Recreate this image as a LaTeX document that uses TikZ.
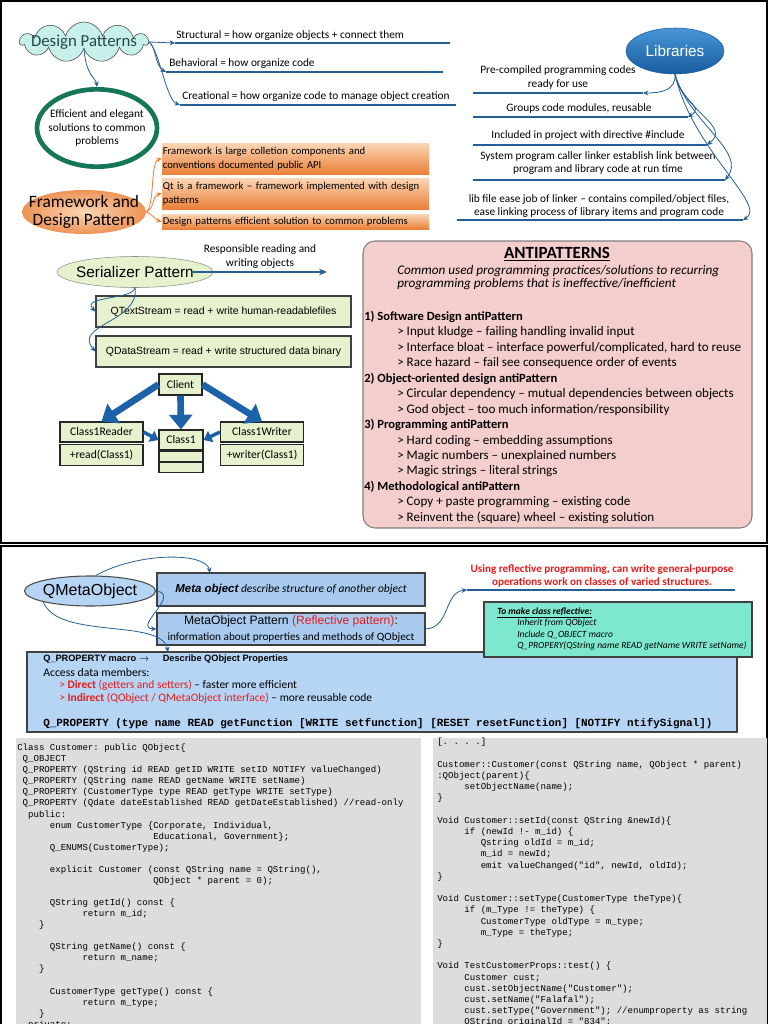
\documentclass[tikz,border=0pt]{standalone}
\usepackage{fontspec}
\setmainfont{Carlito}
\setsansfont{Liberation Sans}
\setmonofont{Liberation Mono}
\usepackage{tikz}
\usetikzlibrary{positioning,arrows.meta,shapes.symbols,shapes.geometric}
\definecolor{lineblue}{RGB}{36,96,150}
\definecolor{cloudfill}{RGB}{200,240,234}
\definecolor{dptext}{RGB}{40,70,70}
\definecolor{ringgreen}{RGB}{22,118,88}
\definecolor{orlight}{RGB}{251,214,182}
\definecolor{ordark}{RGB}{234,128,56}
\definecolor{libtop}{RGB}{72,150,215}
\definecolor{libbot}{RGB}{24,92,160}
\definecolor{sergreen}{RGB}{230,242,206}
\definecolor{umlblue}{RGB}{28,98,168}
\definecolor{antipink}{RGB}{244,205,205}
\definecolor{metablue}{RGB}{168,202,238}
\definecolor{propblue}{RGB}{182,212,244}
\definecolor{reflgreen}{RGB}{126,232,206}
\definecolor{codegray}{RGB}{221,221,221}
\definecolor{reflred}{RGB}{232,28,28}
\newcommand{\fsz}[2]{\fontsize{#1}{#2}\selectfont}
\tikzset{
  lbl/.style={font=\fsz{8.5}{10}},
  hline/.style={draw=lineblue, line width=1.8pt},
  curv/.style={draw=lineblue, line width=0.6pt, -{Stealth[length=4pt,width=3.6pt]}},
  orcurv/.style={draw=ordark, line width=0.6pt, -{Stealth[length=4pt,width=3.6pt]}},
  orbox/.style={top color=orlight, bottom color=ordark, minimum width=200.25pt,
    text width=199pt, align=left, inner sep=0.6pt, font=\fsz{8}{10.3}},
  streambox/.style={draw=black!75, line width=0.8pt, fill=sergreen, minimum width=191.25pt,
    minimum height=23.25pt, font=\sffamily\fsz{7.85}{9}},
  umlbox/.style={draw=black!85, line width=0.8pt, fill=sergreen, font=\fsz{8.7}{9.6}},
  bigarrow/.style={draw=umlblue, line width=5pt, -{Triangle[length=11pt,width=17pt]}},
  smallarrow/.style={draw=umlblue, line width=2.6pt, -{Triangle[length=6pt,width=9pt]}},
  antihead/.style={anchor=west, font=\bfseries\fsz{9.4}{10}},
  antiitem/.style={anchor=west, font=\fsz{9.8}{10}},
  metabox/.style={draw=black!75, line width=0.9pt, fill=metablue, minimum width=201pt},
  codetxt/.style={anchor=north west, align=left, font=\ttfamily\fsz{6.8}{8.4}},
}
\begin{document}
\begin{tikzpicture}[x=0.75pt, y=-0.75pt, every node/.style={inner sep=0pt}]
\useasboundingbox (0,0) rectangle (768,1024);
\fill[white] (0,0) rectangle (768,1024);
% two panels
\draw[line width=1.2pt] (1,1) rectangle (767,543);
\draw[line width=1.2pt] (1,546) rectangle (767,1030);

% design patterns
\node[cloud, cloud puffs=11, aspect=3.2, draw=black!75, fill=cloudfill,
      minimum width=96pt, minimum height=30pt] (dp) at (84,42) {};
\node[font=\fsz{12.6}{14}, text=dptext] (dptxt) at (dp.center) {Design Patterns};
\node[lbl, anchor=west] (strt) at (176,36) {Structural = how organize objects + connect them};
\node[lbl, anchor=west] (beht) at (169,64) {Behavioral = how organize code};
\node[lbl, anchor=west] (cret) at (182,97) {Creational = how organize code to manage object creation};
\coordinate (st0) at (175,43);  \coordinate (st1) at (450,43);
\coordinate (bh0) at (166,72);  \coordinate (bh1) at (443,72);
\coordinate (cr0) at (180,105); \coordinate (cr1) at (456,105);
\draw[hline] (st0) -- (st1);
\draw[hline] (bh0) -- (bh1);
\draw[hline] (cr0) -- (cr1);
\draw[curv] (dp.east) -- (st0);
\draw[curv] (dp.east) .. controls (156,46) and (155,66) .. (bh0);
\draw[curv] (dp.east) .. controls (160,52) and (166,100) .. (cr0);

\node[ellipse, draw=ringgreen, line width=3.5pt, minimum width=90pt, minimum height=58pt] (ring) at (97,128) {};
\node[font=\fsz{8.5}{10}, align=center] (ringtxt) at (ring.center) {Efficient and elegant\\solutions to common\\problems};
\draw[curv] (dp.south) .. controls (86,76) and (96,78) .. (ring.north);

% framework
\node[ellipse, inner color=orlight, outer color=ordark!85, minimum width=93pt, minimum height=33pt] (fw) at (84,212) {};
\node[font=\fsz{13}{14}, align=center] (fwtxt) at (fw.center) {Framework and\\Design Pattern};
\node[orbox, minimum height=23.25pt] (ob1) at (295.5,158.5) {Framework is large colletion components and\\conventions documented public API};
\node[orbox, minimum height=23.25pt] (ob2) at (295.5,193.5) {Qt is a framework -- framework implemented with design\\patterns};
\node[orbox, minimum height=11.25pt] (ob3) at (295.5,221.5) {Design patterns efficient solution to common problems};
\draw[orcurv] (fw.east) .. controls (155,205) and (150,162) .. (ob1.west);
\draw[orcurv] (fw.east) .. controls (155,208) and (152,196) .. (ob2.west);
\draw[orcurv] (fw.east) .. controls (152,214) and (156,220) .. (ob3.west);

% libraries
\node[ellipse, top color=libtop, bottom color=libbot, draw=libbot, minimum width=73.5pt,
      minimum height=34.5pt, text=white, font=\sffamily\fsz{11.5}{13}] (lib) at (675,51) {Libraries};
\node[lbl, align=center] (lt1) at (558,77.5) {Pre-compiled programming codes\\ready for use};
\node[lbl, align=center] (lt2) at (579,108) {Groups code modules, reusable};
\node[lbl, align=center] (lt3) at (588,136) {Included in project with directive \#include};
\node[lbl, align=center] (lt4) at (598,163) {System program caller linker establish link between\\program and library code at run time};
\node[lbl, align=center] (lt5) at (599,206) {lib file ease job of linker -- contains compiled/object files,\\ease linking process of library items and program code};
\coordinate (la1) at (473,93);  \coordinate (lb1) at (643,93);
\coordinate (la2) at (473,117); \coordinate (lb2) at (688,117);
\coordinate (la3) at (473,145); \coordinate (lb3) at (707,145);
\coordinate (la4) at (473,180); \coordinate (lb4) at (725,180);
\coordinate (la5) at (457,220); \coordinate (lb5) at (743,220);
\foreach \i in {1,...,5}
  \draw[hline] (la\i) -- (lb\i);
\draw[curv] (lib.south) .. controls (676,90) and (662,93) .. (lb1);
\draw[curv] (lib.south) .. controls (680,102) and (706,106) .. (lb2);
\draw[curv] (lib.south) .. controls (684,112) and (732,126) .. (lb3);
\draw[curv] (lib.south) .. controls (688,122) and (748,152) .. (lb4);
\draw[curv] (lib.south) .. controls (692,150) and (768,205) .. (lb5);

% serializer
\node[ellipse, draw=black!45, fill=sergreen, minimum width=117pt, minimum height=23.25pt] (ser) at (135,272) {};
\node[font=\sffamily\fsz{11.5}{13}] (sertxt) at (ser.center) {Serializer Pattern};
\node[lbl, align=center] (sert) at (260,256.5) {Responsible reading and\\writing objects};
\coordinate (sr0) at (193,272); \coordinate (sr1) at (327,272);
\draw[hline, -{Stealth[length=6pt,width=5pt]}] (sr0) -- (sr1);
\node[streambox] (qts) at (223.5,311.5) {QTextStream = read + write human-readablefiles};
\node[streambox] (qds) at (223.5,351.5) {QDataStream = read + write structured data binary};
\draw[curv] (ser.south) .. controls (133,300) and (80,296) .. (qts.west);
\draw[curv] (ser.south) .. controls (140,322) and (72,325) .. (qds.west);

% uml
\node[umlbox, minimum width=32.25pt, minimum height=15.75pt] (client) at (180.5,384.5) {Client};
\node[umlbox, minimum width=62.25pt, minimum height=15pt] (clsr) at (101.5,432) {Class1Reader};
\node[umlbox, minimum width=62.25pt, minimum height=15.75pt, below=0.8pt of clsr] (clsrm) {+read(Class1)};
\node[umlbox, minimum width=33pt, minimum height=15pt] (cls) at (181,440) {Class1};
\node[umlbox, minimum width=33pt, minimum height=7.5pt, below=0pt of cls] (clsa) {};
\node[umlbox, minimum width=33pt, minimum height=7.5pt, below=0pt of clsa] (clsb) {};
\node[umlbox, minimum width=62.25pt, minimum height=15pt] (clsw) at (262,432) {Class1Writer};
\node[umlbox, minimum width=62.25pt, minimum height=15.75pt, below=0.8pt of clsw] (clswm) {+writer(Class1)};
\draw[bigarrow] (client.west) -- (clsr.north);
\draw[bigarrow] (client.south) -- (cls.north);
\draw[bigarrow] (client.east) -- (clsw.north);
\draw[smallarrow] (clsr.east) -- (cls.west);
\draw[smallarrow] (clsw.west) -- (cls.east);

% antipatterns
\node[draw=black!50, line width=0.8pt, fill=antipink, rounded corners=9pt,
      minimum width=291.75pt, minimum height=215.25pt] (anti) at (557.5,384.5) {};
\node[font=\bfseries\fsz{12.8}{14}] (antitl) at (557,254) {\underline{ANTIPATTERNS}};
\node[anchor=west, align=left, font=\itshape\fsz{9.9}{10}] (antisub) at (397,277.5)
  {Common used programming practices/solutions to recurring\\programming problems that is ineffective/inefficient};
\node[antihead] (ah1) at (364,317.0) {1) Software Design antiPattern};
\node[antiitem] (ai1) at (397,332.5) {> Input kludge -- failing handling invalid input};
\node[antiitem] (ai2) at (397,347.9) {> Interface bloat -- interface powerful/complicated, hard to reuse};
\node[antiitem] (ai3) at (397,363.4) {> Race hazard -- fail see consequence order of events};
\node[antihead] (ah2) at (364,378.8) {2) Object-oriented design antiPattern};
\node[antiitem] (ai4) at (397,394.3) {> Circular dependency -- mutual dependencies between objects};
\node[antiitem] (ai5) at (397,409.7) {> God object -- too much information/responsibility};
\node[antihead] (ah3) at (364,425.2) {3) Programming antiPattern};
\node[antiitem] (ai6) at (397,440.6) {> Hard coding -- embedding assumptions};
\node[antiitem] (ai7) at (397,456.0) {> Magic numbers -- unexplained numbers};
\node[antiitem] (ai8) at (397,471.5) {> Magic strings -- literal strings};
\node[antihead] (ah4) at (364,487.0) {4) Methodological antiPattern};
\node[antiitem] (ai9) at (397,502.4) {> Copy + paste programming -- existing code};
\node[antiitem] (ai10) at (397,517.9) {> Reinvent the (square) wheel -- existing solution};

% qmetaobject
\node[ellipse, draw=black!70, line width=0.8pt, fill=propblue, minimum width=98.25pt, minimum height=22.5pt] (qmo) at (90,591) {};
\node[font=\sffamily\fsz{12}{14}] (qmotxt) at (qmo.center) {QMetaObject};
\node[metabox, minimum height=24.75pt, font=\fsz{8.6}{10}] (mob) at (291,589.5)
  {{\sffamily\bfseries\itshape Meta object} {\itshape describe structure of another object}};
\node[metabox, minimum height=24pt, align=center] (mop) at (291,629)
  {{\sffamily\fsz{9.1}{10.5}MetaObject Pattern \textcolor{reflred}{(Reflective pattern)}:}\\[-0.5pt]
   {\fsz{8.4}{9.5}information about properties and methods of QObject}};
\node[draw=black!75, line width=0.9pt, fill=propblue, minimum width=532.5pt, minimum height=60pt] (qp) at (382,692) {};
\node[anchor=west, font=\sffamily\bfseries\fsz{6.9}{8}] (qpt1) at (43,659)
  {Q\_PROPERTY macro $\rightarrow$\hspace{10pt}Describe QObject Properties};
\node[anchor=west, font=\fsz{8.8}{9}] (qpt2) at (43,672) {Access data members:};
\node[anchor=west, font=\fsz{8.6}{9}] (qpt3) at (59,685)
  {\textcolor{reflred}{> \textbf{Direct} (getters and setters)} -- faster more efficient};
\node[anchor=west, font=\fsz{8.6}{9}] (qpt4) at (59,698)
  {\textcolor{reflred}{> \textbf{Indirect} (QObject / QMetaObject interface)} -- more reusable code};
\node[anchor=west, font=\ttfamily\bfseries\fsz{8.2}{9}] (qpt5) at (43,724)
  {Q\_PROPERTY (type name READ getFunction [WRITE setfunction] [RESET resetFunction] [NOTIFY ntifySignal])};
\coordinate (mobin) at (210,573);
\coordinate (qpin) at (168,652);
\draw[curv] (qmo.70) .. controls (138,552) and (206,552) .. (mobin);
\draw[curv] (qmo.east) .. controls (182,594) and (132,628) .. (mop.west);
\draw[curv] (qmo.south west) .. controls (58,640) and (162,618) .. (qpin);

% reflective
\node[align=center, text=reflred, font=\bfseries\fsz{8.35}{9.8}] (refltxt) at (602,575.5)
  {Using reflective programming, can write general-purpose\\operations work on classes of varied structures.};
\coordinate (rl0) at (467,590); \coordinate (rl1) at (735,590);
\draw[hline] (rl0) -- (rl1);
\draw[curv] (mop.east) .. controls (450,628) and (444,592) .. (rl0);
\node[draw=black!75, line width=0.9pt, fill=reflgreen, minimum width=201pt, minimum height=41.25pt] (refl) at (618,629.5) {};
\node[anchor=west, font=\itshape\fsz{7.1}{8}] (rf1) at (497,613) {\underline{\textbf{To make class reflective:}}};
\node[anchor=west, font=\itshape\fsz{7.1}{8}] (rf2) at (517,623.5) {Inherit from QObject};
\node[anchor=west, font=\itshape\fsz{7.1}{8}] (rf3) at (517,634.5) {Include Q\_OBJECT macro};
\node[anchor=west, font=\itshape\fsz{7.1}{8}] (rf4) at (517,645.5) {Q\_PROPERY(QString name READ getName WRITE setName)};

% code listings
\fill[codegray] (16,738) rectangle (421,1030);
\fill[codegray] (433,738) rectangle (767,1030);
\node[codetxt, font=\ttfamily\fsz{6.8}{8.3}] (codel) at (17,743.8) {Class Customer: public QObject\{\\
~Q\_OBJECT\\
~Q\_PROPERTY (QString id READ getID WRITE setID NOTIFY valueChanged)\\
~Q\_PROPERTY (QString name READ getName WRITE setName)\\
~Q\_PROPERTY (CustomerType type READ getType WRITE setType)\\
~Q\_PROPERTY (Qdate dateEstablished READ getDateEstablished) //read-only\\
~~public:\\
~~~~~~enum CustomerType \{Corporate, Individual,\\
~~~~~~~~~~~~~~~~~~~~~~~~~Educational, Government\};\\
~~~~~~Q\_ENUMS(CustomerType);\\
~\\
~~~~~~explicit Customer (const QString name = QString(),\\
~~~~~~~~~~~~~~~~~~~~~~~~~QObject * parent = 0);\\
~\\
~~~~~~QString getId() const \{\\
~~~~~~~~~~~~return m\_id;\\
~~~~\}\\
~\\
~~~~~~QString getName() const \{\\
~~~~~~~~~~~~return m\_name;\\
~~~~\}\\
~\\
~~~~~~CustomerType getType() const \{\\
~~~~~~~~~~~~return m\_type;\\
~~~~\}\\
~~private:};
\node[codetxt] (coder) at (437,738) {[. . . .]\\
~\\
Customer::Customer(const QString name, QObject * parent)\\
:QObject(parent)\{\\
~~~~~setObjectName(name);\\
\}\\
~\\
Void Customer::setId(const QString \&newId)\{\\
~~~~~if (newId !- m\_id) \{\\
~~~~~~~~Qstring oldId = m\_id;\\
~~~~~~~~m\_id = newId;\\
~~~~~~~~emit valueChanged("id", newId, oldId);\\
\}\\
~\\
Void Customer::setType(CustomerType theType)\{\\
~~~~~if (m\_Type != theType) \{\\
~~~~~~~~CustomerType oldType = m\_type;\\
~~~~~~~~m\_Type = theType;\\
\}\\
~\\
Void TestCustomerProps::test() \{\\
~~~~~Customer cust;\\
~~~~~cust.setObjectName("Customer");\\
~~~~~cust.setName("Falafal");\\
~~~~~cust.setType("Government"); //enumproperty as string\\
~~~~~QString originalId = "834";};
\end{tikzpicture}
\end{document}
